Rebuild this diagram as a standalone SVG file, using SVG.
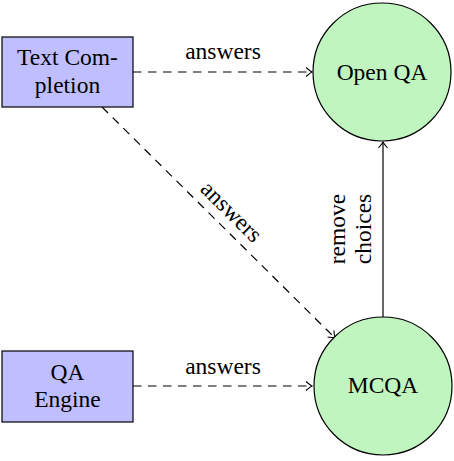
<svg xmlns="http://www.w3.org/2000/svg" width="454" height="461" viewBox="0 0 454 461">
<defs>
<marker id="to" viewBox="-8 -6 10 12" refX="0" refY="0" markerWidth="10" markerHeight="12" markerUnits="userSpaceOnUse" orient="auto">
<path d="M-6,-4.5 Q-2,-1 0,0 Q-2,1 -6,4.5" fill="none" stroke="#000" stroke-width="1.1"/>
</marker>
</defs>
<rect width="454" height="461" fill="#fff"/>
<g id="connectors" fill="none" stroke="#000" stroke-width="1.2" marker-end="url(#to)">
<path stroke-dasharray="8.5 6.5" d="M133,72 L312,72"/>
<path stroke-dasharray="8.5 6.5" d="M133,386 L312,386"/>
<path stroke-dasharray="8.5 6.5" d="M102,107 L335,338"/>
<path d="M383,317 L383,142"/>
</g>
<g id="edge-labels" font-family="Liberation Serif" font-size="23.5" text-anchor="middle" fill="#000">
<text x="223" y="59">answers</text>
<text x="223" y="374">answers</text>
<text transform="translate(231,212) rotate(44.7)" y="7">answers</text>
<text transform="translate(350,229) rotate(-90)"><tspan x="0" y="-5">remove</tspan><tspan x="0" y="21">choices</tspan></text>
</g>
<g id="text-completion" font-family="Liberation Serif" font-size="23.5" text-anchor="middle">
<rect x="2" y="37" width="131" height="70" fill="#bfbfff" stroke="#000" stroke-width="1.2"/>
<text x="67.5" y="65">Text Com-</text>
<text x="67.5" y="93">pletion</text>
</g>
<g id="qa-engine" font-family="Liberation Serif" font-size="23.5" text-anchor="middle">
<rect x="2" y="351" width="131" height="71" fill="#bfbfff" stroke="#000" stroke-width="1.2"/>
<text x="67.5" y="380">QA</text>
<text x="67.5" y="407">Engine</text>
</g>
<g id="open-qa" font-family="Liberation Serif" font-size="23.5" text-anchor="middle">
<circle cx="382" cy="72" r="69" fill="#c0f5c0" stroke="#000" stroke-width="1.2"/>
<text x="382" y="80">Open QA</text>
</g>
<g id="mcqa" font-family="Liberation Serif" font-size="23.5" text-anchor="middle">
<circle cx="383" cy="386" r="69" fill="#c0f5c0" stroke="#000" stroke-width="1.2"/>
<text x="383" y="393">MCQA</text>
</g>
</svg>
